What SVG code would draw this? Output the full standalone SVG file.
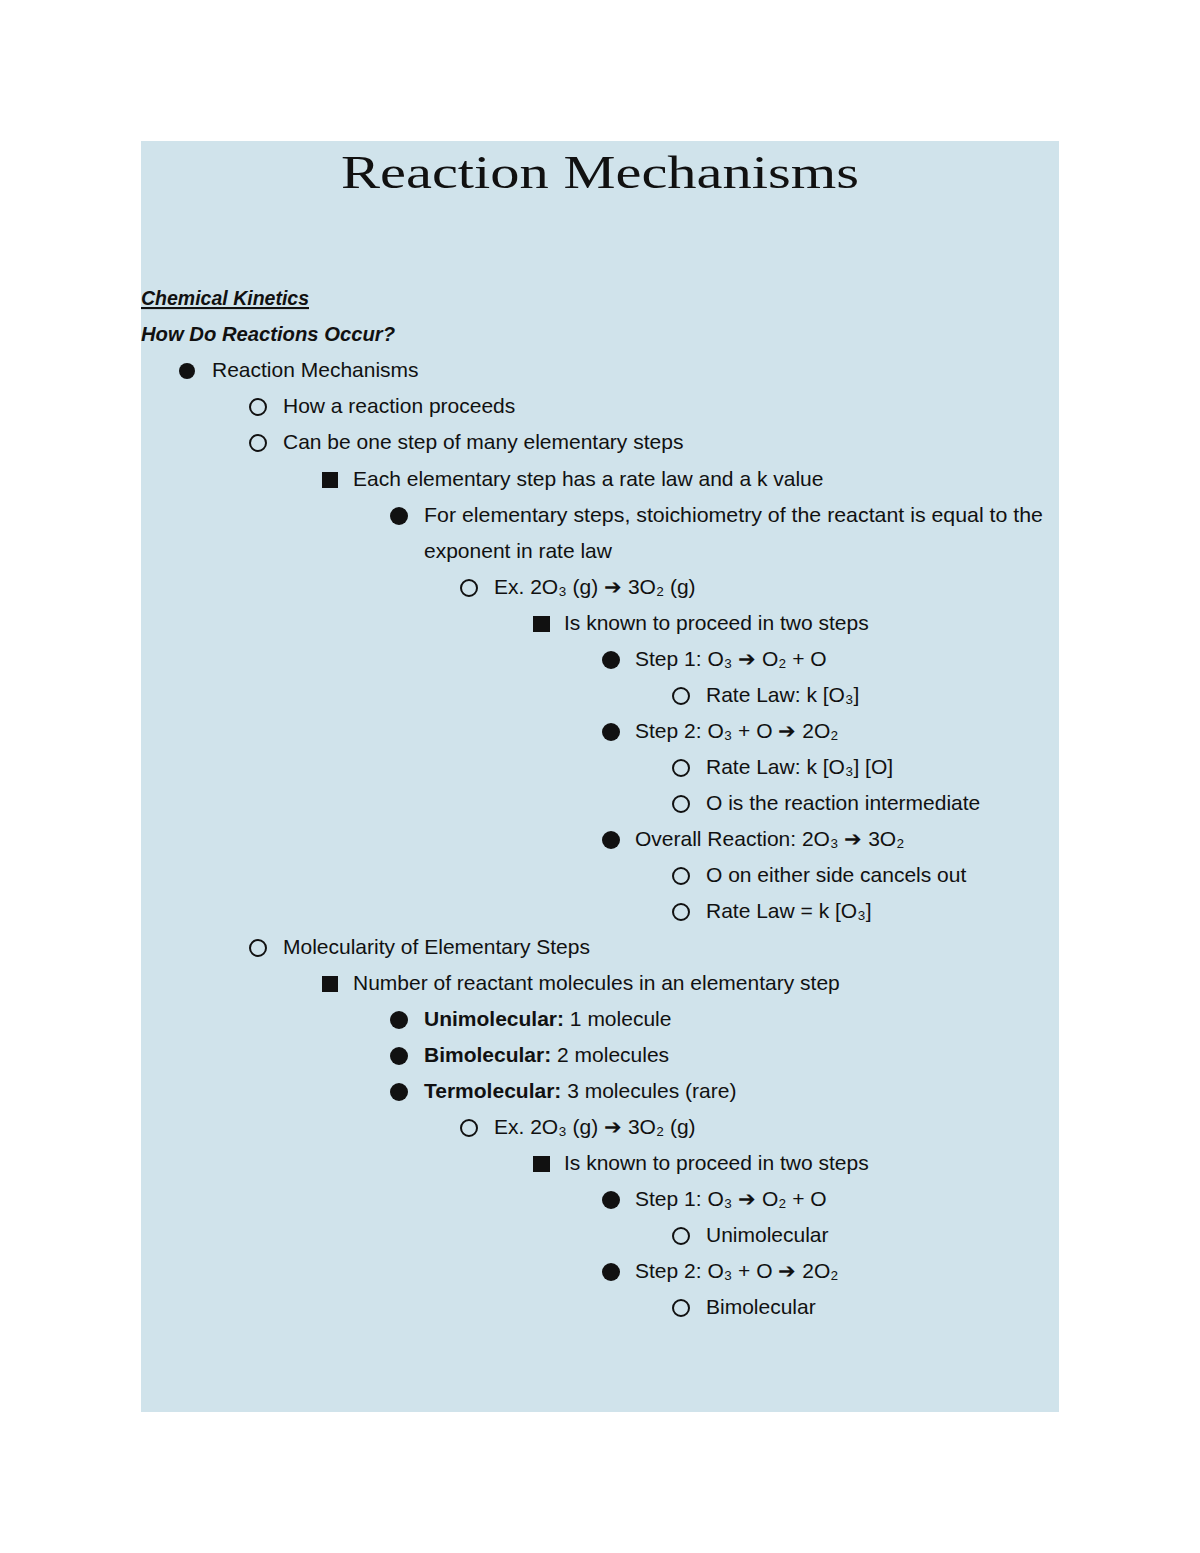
<svg xmlns="http://www.w3.org/2000/svg" width="1200" height="1553" viewBox="0 0 1200 1553">
<style>
text{font-family:"Liberation Sans",sans-serif;font-size:21px;fill:#111}
.h{font-weight:bold;font-style:italic;font-size:21px}
.t{font-family:"Liberation Serif",serif;font-size:46px}
.o{fill:none;stroke:#111;stroke-width:2}
.f{fill:#111}
</style>
<rect width="1200" height="1553" fill="#fff"/>
<rect x="141" y="141" width="918" height="1271" fill="#d0e3eb"/>
<text class="t" x="341" y="188" textLength="518" lengthAdjust="spacingAndGlyphs">Reaction Mechanisms</text>
<text class="h" x="141" y="305" text-decoration="underline" textLength="168" lengthAdjust="spacingAndGlyphs">Chemical Kinetics</text>
<text class="h" x="141" y="341" textLength="254" lengthAdjust="spacingAndGlyphs">How Do Reactions Occur?</text>
<circle class="f" cx="187" cy="371" r="8"/><text x="212" y="377">Reaction Mechanisms</text>
<circle class="o" cx="258" cy="407" r="8"/><text x="283" y="413">How a reaction proceeds</text>
<circle class="o" cx="258" cy="443" r="8"/><text x="283" y="449">Can be one step of many elementary steps</text>
<rect class="f" x="322" y="472" width="16" height="16"/><text x="353" y="486">Each elementary step has a rate law and a k value</text>
<circle class="f" cx="399" cy="516" r="9"/><text x="424" y="522" textLength="619" lengthAdjust="spacingAndGlyphs">For elementary steps, stoichiometry of the reactant is equal to the</text>
<text x="424" y="558">exponent in rate law</text>
<circle class="o" cx="469" cy="588" r="8"/><text x="494" y="594">Ex. 2O₃ (g) ➔ 3O₂ (g)</text>
<rect class="f" x="533" y="616" width="17" height="16"/><text x="564" y="630">Is known to proceed in two steps</text>
<circle class="f" cx="611" cy="660" r="9"/><text x="635" y="666">Step 1: O₃ ➔ O₂ + O</text>
<circle class="o" cx="681" cy="696" r="8"/><text x="706" y="702">Rate Law: k [O₃]</text>
<circle class="f" cx="611" cy="732" r="9"/><text x="635" y="738">Step 2: O₃ + O ➔ 2O₂</text>
<circle class="o" cx="681" cy="768" r="8"/><text x="706" y="774">Rate Law: k [O₃] [O]</text>
<circle class="o" cx="681" cy="804" r="8"/><text x="706" y="810">O is the reaction intermediate</text>
<circle class="f" cx="611" cy="840" r="9"/><text x="635" y="846">Overall Reaction: 2O₃ ➔ 3O₂</text>
<circle class="o" cx="681" cy="876" r="8"/><text x="706" y="882">O on either side cancels out</text>
<circle class="o" cx="681" cy="912" r="8"/><text x="706" y="918">Rate Law = k [O₃]</text>
<circle class="o" cx="258" cy="948" r="8"/><text x="283" y="954">Molecularity of Elementary Steps</text>
<rect class="f" x="322" y="976" width="16" height="16"/><text x="353" y="990">Number of reactant molecules in an elementary step</text>
<circle class="f" cx="399" cy="1020" r="9"/><text x="424" y="1026"><tspan font-weight="bold">Unimolecular:</tspan> 1 molecule</text>
<circle class="f" cx="399" cy="1056" r="9"/><text x="424" y="1062"><tspan font-weight="bold">Bimolecular:</tspan> 2 molecules</text>
<circle class="f" cx="399" cy="1092" r="9"/><text x="424" y="1098"><tspan font-weight="bold">Termolecular:</tspan> 3 molecules (rare)</text>
<circle class="o" cx="469" cy="1128" r="8"/><text x="494" y="1134">Ex. 2O₃ (g) ➔ 3O₂ (g)</text>
<rect class="f" x="533" y="1156" width="17" height="16"/><text x="564" y="1170">Is known to proceed in two steps</text>
<circle class="f" cx="611" cy="1200" r="9"/><text x="635" y="1206">Step 1: O₃ ➔ O₂ + O</text>
<circle class="o" cx="681" cy="1236" r="8"/><text x="706" y="1242">Unimolecular</text>
<circle class="f" cx="611" cy="1272" r="9"/><text x="635" y="1278">Step 2: O₃ + O ➔ 2O₂</text>
<circle class="o" cx="681" cy="1308" r="8"/><text x="706" y="1314">Bimolecular</text>
</svg>
